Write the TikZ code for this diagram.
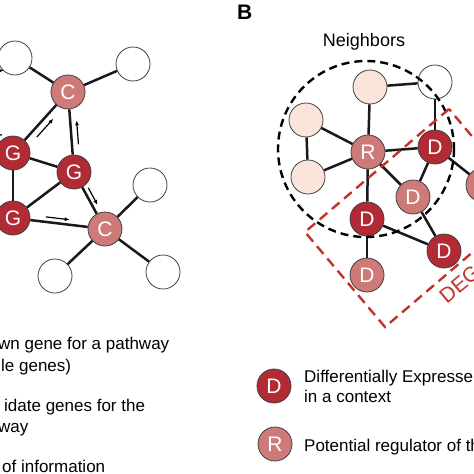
\documentclass[tikz,border=0pt]{standalone}
\usepackage{fontspec}
\setmainfont{Liberation Sans}
\usetikzlibrary{calc,arrows.meta}

\definecolor{degred}{RGB}{178,42,52}
\definecolor{regpink}{RGB}{206,122,120}
\definecolor{peach}{RGB}{251,229,218}
\definecolor{boxred}{RGB}{196,50,42}

\begin{document}
\begin{tikzpicture}[x=1pt, y=-1pt,
        gene/.style={circle, draw=black!75, line width=0.8pt, minimum size=34pt, inner sep=0pt,
                     text=white, font=\fontsize{21}{21}\selectfont},
        known/.style={gene, fill=degred},
        cand/.style={gene, fill=regpink},
        plain/.style={gene, fill=white},
        nb/.style={gene, fill=peach},
        link/.style={line width=2.5pt, black!90},
        flow/.style={line width=1.2pt, -{Latex[length=5pt, width=4pt]}},
        legend/.style={anchor=base west, inner sep=0pt, font=\fontsize{17}{20}\selectfont}]
    \useasboundingbox (0, 0) rectangle (474, 474);

    % A: pathway genes and candidates
    \node[plain] (wtl)  at ( 15,  58) {};
    \node[plain] (wtop) at (133,  64) {};
    \node[cand]  (ct)   at ( 68,  92) {C};
    \node[known] (gl)   at ( 13, 153) {G};
    \node[known] (gc)   at ( 74, 172) {G};
    \node[known] (gbl)  at ( 13, 218) {G};
    \node[cand]  (cb)   at (105, 229) {C};
    \node[plain] (wr)   at (150, 185) {};
    \node[plain] (wbl)  at ( 55, 276) {};
    \node[plain] (wbr)  at (163, 272) {};

    \draw[link] (wtl) -- (ct);
    \draw[link] (ct) -- (wtop);
    \draw[link] (gl) -- (ct);
    \draw[link] (gc) -- (ct);
    \draw[link] (gl) -- (gc);
    \draw[link] (gl) -- (gbl);
    \draw[link] (gbl) -- (gc);
    \draw[link] (gc) -- (cb);
    \draw[link] (gbl) -- (cb);
    \draw[link] (cb) -- (wr);
    \draw[link] (cb) -- (wbl);
    \draw[link] (cb) -- (wbr);

    \draw[flow] ($(gl)!0.34!(ct)!7pt!-90:(ct)$) -- ($(gl)!0.64!(ct)!7pt!-90:(ct)$);
    \draw[flow] ($(gc)!0.34!(ct)!6.5pt!-90:(ct)$) -- ($(gc)!0.64!(ct)!6.5pt!-90:(ct)$);
    \draw[flow] ($(gc)!0.32!(cb)!5pt!90:(cb)$) -- ($(gc)!0.62!(cb)!5pt!90:(cb)$);
    \draw[flow] ($(gbl)!0.35!(cb)!5pt!90:(cb)$) -- ($(gbl)!0.61!(cb)!5pt!90:(cb)$);

    \coordinate (offa) at (-14, 73);
    \coordinate (tipa) at (4, 70);
    \coordinate (offb) at (-8, 134);
    \coordinate (tipb) at (2, 135);
    \draw[flow] (offa) -- (tipa);
    \draw[line width=1.2pt] (offb) -- (tipb);

    \node[legend] (ta1) at (-2, 349) {wn gene for a pathway};
    \node[legend] (ta2) at ( 1, 371) {le genes)};
    \node[legend] (ta3) at ( 4, 411) {idate genes for the};
    \node[legend] (ta4) at (-2, 432) {way};
    \node[legend] (ta5) at ( 2, 472) {of information};

    % B: neighbors of a regulator
    \node[anchor=north west, inner sep=0pt, font=\bfseries\fontsize{21}{21}\selectfont] (lblb) at (237, 5) {B};
    \node[font=\fontsize{18}{18}\selectfont] (nbtitle) at (364, 42) {Neighbors};

    \node[nb]    (pt)  at (370,  87) {};
    \node[plain] (wtr) at (435,  82) {};
    \node[nb]    (plt) at (306, 120) {};
    \node[nb]    (plb) at (308, 177) {};
    \node[cand]  (r)   at (368, 152) {R};
    \node[known] (d1)  at (435, 147) {D};
    \node[cand]  (d2)  at (413, 197) {D};
    \node[known] (d3)  at (367, 219) {D};
    \node[known] (d4)  at (444, 251) {D};
    \node[cand]  (d5)  at (367, 275) {D};
    \node[cand]  (dr)  at (483, 185) {};

    \draw[link] (pt) -- (wtr);
    \draw[link] (pt) -- (r);
    \draw[link] (wtr) -- (d1);
    \draw[link] (plt) -- (plb);
    \draw[link] (plt) -- (r);
    \draw[link] (plb) -- (r);
    \draw[link] (r) -- (d1);
    \draw[link] (r) -- (d2);
    \draw[link] (r) -- (d3);
    \draw[link] (d1) -- (d2);
    \draw[link] (d1) -- (dr);
    \draw[link] (d2) -- (d4);
    \draw[link] (d3) -- (d4);
    \draw[link] (d3) -- (d5);

    \draw[line width=2.4pt, dash pattern=on 8pt off 5pt] (366, 149) circle (88);

    \coordinate (bxt) at (449, 109);
    \coordinate (bxl) at (305, 232);
    \coordinate (bxb) at (385, 327);
    \coordinate (bxr) at (529, 204);
    \draw[boxred, line width=2.4pt, dash pattern=on 10pt off 6pt] (bxt) -- (bxl) -- (bxb) -- (bxr) -- cycle;
    \node[anchor=south west, inner sep=0pt, rotate=40, text=boxred, font=\fontsize{21}{21}\selectfont] (deg) at (447, 305) {DEG};

    \node[known] (legd) at (274, 386) {D};
    \node[cand]  (legr) at (275, 444) {R};
    \node[legend] (tb1) at (304, 382) {Differentially Expresse};
    \node[legend] (tb2) at (304, 402) {in a context};
    \node[legend] (tb3) at (304, 451) {Potential regulator of th};
\end{tikzpicture}
\end{document}
